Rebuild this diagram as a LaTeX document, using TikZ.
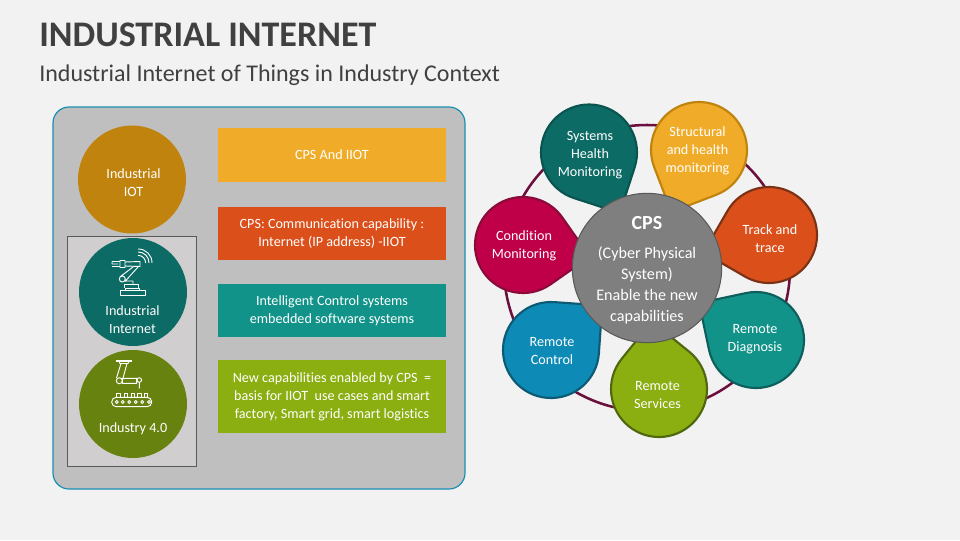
\documentclass[tikz,border=0pt]{standalone}
\usepackage{fontspec}
\setmainfont{Carlito}[Ligatures=NoCommon]
\definecolor{pagebg}{HTML}{F2F2F2}
\definecolor{panelbg}{HTML}{BFBFBF}
\definecolor{panelline}{HTML}{1B8FB3}
\definecolor{innerbg}{HTML}{D0CECE}
\definecolor{innerline}{HTML}{595959}
\definecolor{titlegray}{HTML}{404040}
\definecolor{ringcol}{HTML}{6B0F3C}
\definecolor{cAmberDk}{HTML}{C0830E}
\definecolor{cAmber}{HTML}{F0AC28}
\definecolor{cOrange}{HTML}{DB4F1A}
\definecolor{cOrangeDk}{HTML}{7A3216}
\definecolor{cTeal}{HTML}{12938A}
\definecolor{cTealDk}{HTML}{0E5F5C}
\definecolor{cPine}{HTML}{0D6B66}
\definecolor{cPineDk}{HTML}{0A5450}
\definecolor{cLime}{HTML}{8BAE10}
\definecolor{cLimeDk}{HTML}{4F6810}
\definecolor{cOlive}{HTML}{688210}
\definecolor{cBlue}{HTML}{0D8AB5}
\definecolor{cBlueDk}{HTML}{0D5A75}
\definecolor{cRose}{HTML}{BF0048}
\definecolor{cRoseDk}{HTML}{8A0A3A}
\definecolor{cHub}{HTML}{7F7F7F}
\definecolor{cHubDk}{HTML}{595959}
\tikzset{
  bigdot/.style={circle,minimum size=81pt,inner sep=0pt},
  strip/.style={minimum width=171pt,inner sep=0pt,text=white,align=center,font=\fontsize{10.6}{13.5}\selectfont},
  petaltext/.style={text=white,align=center,font=\fontsize{10.6}{13.5}\selectfont},
  icon/.style={draw=white,line width=.7pt,line join=round}
}
% one petal: centre, angle of its tip, fill, border
\newcommand{\petal}[4]{
  \draw[fill=#3,draw=#4,line width=1.6pt,shift={#1},rotate=#2]
    (45:36pt) arc (45:315:36pt) -- (50.9pt,0pt) -- cycle;
}
\begin{document}
\begin{tikzpicture}[x=.75pt,y=-.75pt]
  \useasboundingbox (0,0) rectangle (960,540);
  \fill[pagebg] (0,0) rectangle (960,540);
  \node (title) [anchor=base west,inner sep=0pt,text=titlegray,font=\fontsize{27}{27}\selectfont\bfseries] at (39,46) {INDUSTRIAL INTERNET};
  \node (subtitle) [anchor=base west,inner sep=0pt,text=titlegray,font=\fontsize{18}{18}\selectfont] at (39,81) {Industrial Internet of Things in Industry Context};
  % left panel
  \draw[fill=panelbg,draw=panelline,line width=.9pt,rounded corners=12pt] (53,107) rectangle (465,489);
  \draw[fill=innerbg,draw=innerline,line width=.6pt] (67,236) rectangle (196,466);
  \node (iot) [bigdot,fill=cAmberDk] at (132,179.5) {};
  \node (iotlabel) [petaltext] at (133.5,183) {Industrial\\IOT};
  \node (internet) [bigdot,fill=cPine] at (133,292) {};
  \node (internetlabel) [petaltext] at (132.5,320) {Industrial\\Internet};
  \node (ind40) [bigdot,fill=cOlive] at (133,404) {};
  \node (ind40label) [petaltext] at (133,429) {Industry 4.0};
  % robot arm icon
  \draw[icon] (120,290.7) rectangle (145.7,295);
  \draw[icon] (125,290.7) -- (125,288) -- (139,288) -- (139,290.7) (124,288) -- (124,284) -- (138,284) -- (138,288);
  \draw[icon] (122.3,279) circle (3) (120.5,276.5) -- (133,267) (125,281.5) -- (138,267) (133,284) -- (133,281) -- (126,281);
  \draw[icon] (112,261.5) -- (120,261.5) -- (120,266.5) -- (112,266.5) (112,261.5) -- (112,264) -- (118,264) (120,260.5) rectangle (125,267.5) (125,262) -- (140,261.5) -- (140,266.5) -- (125,266);
  \foreach \rad in {7.3,10.7,13.7}
    \draw[icon,line cap=round] (138.3,262.7-\rad) arc[start angle=90,end angle=0,radius=\rad*.75pt];
  % conveyor icon
  \draw[icon,line width=1pt] (115.7,361) -- (132.3,361);
  \draw[icon] (119,361) -- (120,363.5) -- (128,363.5) -- (129,361);
  \draw[icon] (121,363.5) -- (116.5,378) (127,363.5) -- (122.5,380);
  \draw[icon] (119.3,380.7) circle (3) (122.3,378.3) rectangle (136.7,383.3) (139.3,380) circle (2.3) (139.3,382.3) -- (139.3,388.3);
  \draw[icon,rounded corners=3.4pt] (111.7,397.3) rectangle (151.7,406.7);
  \foreach \cx in {116.7,122.7,129.3,135.7,142.3,149} \draw[icon] (\cx,402) circle (1.5);
  \foreach \cx in {116.7,124,131,137.7,144.3} \draw[icon] (\cx,393.3) rectangle ++(3.3,4);
  % strips
  \node (s1) [strip,fill=cAmber,minimum height=40.5pt] at (332,155) {CPS And IIOT};
  \node (s2) [strip,fill=cOrange,minimum height=39.75pt] at (332,233.5) {CPS: Communication capability :\\Internet (IP address) -IIOT};
  \node (s3) [strip,fill=cTeal,minimum height=39.75pt] at (332,310.5) {Intelligent Control systems\\embedded software systems};
  \node (s4) [strip,fill=cLime,minimum height=54.75pt] at (332,396.5) {New capabilities enabled by CPS~ =\\basis for IIOT~ use cases and smart\\factory, Smart grid, smart logistics};
  % right wheel
  \draw[ringcol,line width=1.9pt] (647,268) circle (143);
  \petal{(589,152.5)}{-63}{cPine}{cPineDk}
  \petal{(699,150)}{-114}{cAmber}{cAmberDk}
  \petal{(769,235)}{195}{cOrange}{cOrangeDk}
  \petal{(756,340)}{147}{cTeal}{cTealDk}
  \petal{(659,389)}{96}{cLime}{cLimeDk}
  \petal{(551,350)}{41}{cBlue}{cBlueDk}
  \petal{(523,245)}{-10}{cRose}{cRoseDk}
  \node (p1) [petaltext] at (590,155) {Systems\\Health\\Monitoring};
  \node (p2) [petaltext] at (697.5,150.5) {Structural\\and health\\monitoring};
  \node (p3) [petaltext] at (770,238.5) {Track and\\trace};
  \node (p4) [petaltext] at (755,339.5) {Remote\\Diagnosis};
  \node (p5) [petaltext] at (657.5,395.5) {Remote\\Services};
  \node (p6) [petaltext] at (552,351.5) {Remote\\Control};
  \node (p7) [petaltext] at (524,245.5) {Condition\\Monitoring};
  \node (hub) [circle,fill=cHub,draw=cHubDk,line width=.8pt,minimum size=112pt,inner sep=0pt] at (647,268) {};
  \node (hubtitle) [text=white,font=\fontsize{15}{15}\selectfont\bfseries] at (647,223) {CPS};
  \node (hubtext) [text=white,align=center,font=\fontsize{12.1}{15.6}\selectfont] at (647,285.5) {(Cyber Physical\\System)\\Enable the new\\capabilities};
\end{tikzpicture}
\end{document}
